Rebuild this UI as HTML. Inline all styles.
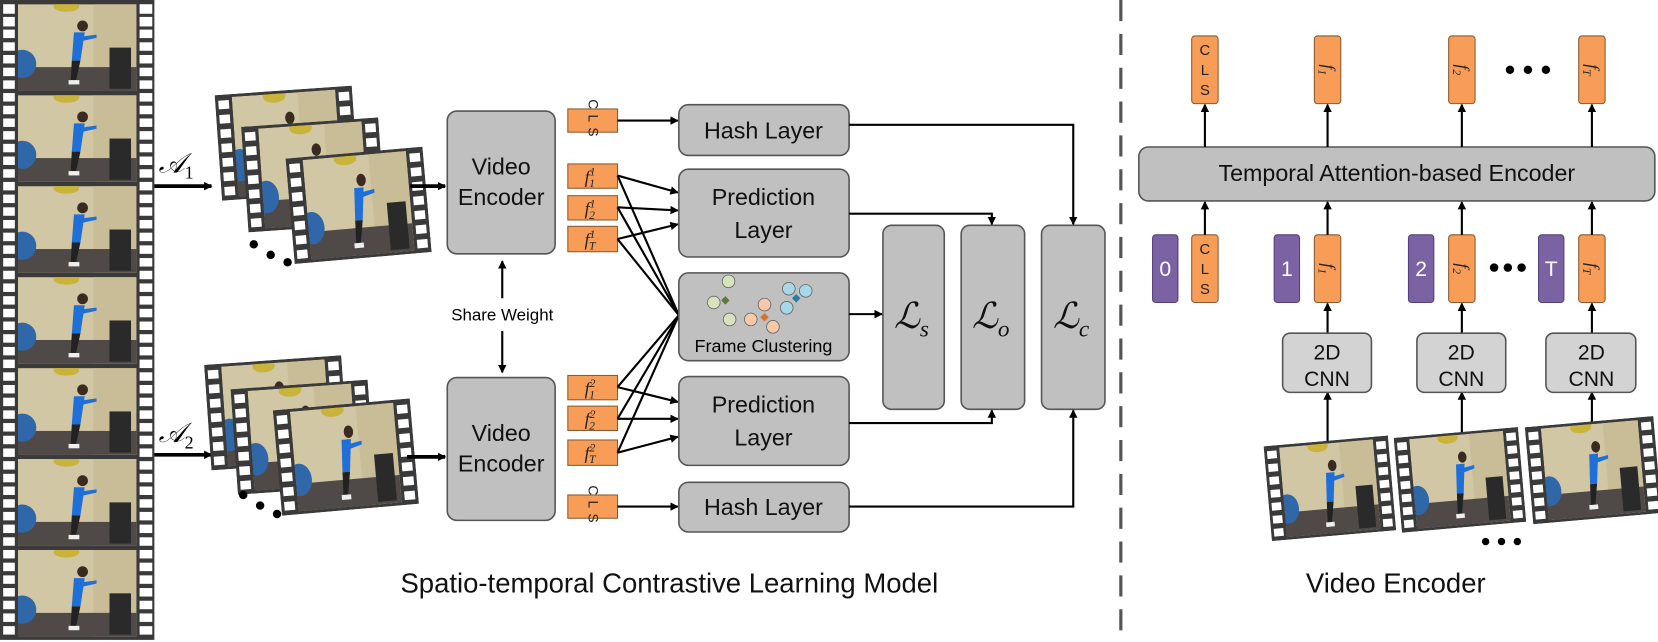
<!DOCTYPE html>
<html><head><meta charset="utf-8"><style>
html,body{margin:0;padding:0;background:#fff;}
svg{display:block;}
text{font-family:"Liberation Sans",sans-serif;}
.m{font-family:"Liberation Serif",serif;font-style:italic;}
</style></head><body>
<svg width="1658" height="642" viewBox="0 0 1568 607" preserveAspectRatio="none" xmlns="http://www.w3.org/2000/svg">
<defs>
<marker id="ah" markerWidth="8" markerHeight="8" refX="7" refY="4" orient="auto" markerUnits="userSpaceOnUse"><path d="M0,0 L8,4 L0,8 z" fill="#000"/></marker>
<marker id="ahs" markerWidth="8" markerHeight="8" refX="7" refY="4" orient="auto-start-reverse" markerUnits="userSpaceOnUse"><path d="M0,0 L8,4 L0,8 z" fill="#000"/></marker>
<symbol id="ph" viewBox="0 0 110 80" preserveAspectRatio="none">
<rect width="110" height="80" fill="#d2c7a4"/>
<rect x="70" y="0" width="40" height="80" fill="#c9bd98"/>
<rect x="0" y="58" width="110" height="22" fill="#4f4a47"/>
<ellipse cx="45" cy="2" rx="12" ry="5" fill="#c9b33a"/>
<circle cx="4" cy="55" r="13" fill="#2f67a8"/>
<rect x="85" y="40" width="20" height="38" fill="#2a2a2a"/>
<circle cx="60" cy="20" r="5" fill="#3a2a20"/>
<path d="M52,26 L62,26 L58,52 L50,52 z" fill="#1f6fd8"/>
<path d="M58,30 L73,28 L73,31 L59,34 z" fill="#1f6fd8"/>
<path d="M50,52 L58,52 L54,70 L49,70 z" fill="#222"/>
<rect x="47" y="70" width="10" height="4" fill="#eee"/>
</symbol>
<symbol id="clip" viewBox="0 0 130 110" preserveAspectRatio="none">
<rect width="130" height="110" fill="#3a3a3a"/>
<use href="#ph" x="16" y="3" width="98" height="104"/>
<g fill="#fff"><rect x="3" y="6" width="10" height="9"/><rect x="3" y="21" width="10" height="9"/><rect x="3" y="36" width="10" height="9"/><rect x="3" y="51" width="10" height="9"/><rect x="3" y="66" width="10" height="9"/><rect x="3" y="81" width="10" height="9"/><rect x="3" y="96" width="10" height="9"/>
<rect x="117" y="6" width="10" height="9"/><rect x="117" y="21" width="10" height="9"/><rect x="117" y="36" width="10" height="9"/><rect x="117" y="51" width="10" height="9"/><rect x="117" y="66" width="10" height="9"/><rect x="117" y="81" width="10" height="9"/><rect x="117" y="96" width="10" height="9"/></g>
</symbol>
</defs>

<!-- left film strip -->
<rect x="0" y="0" width="146" height="605" fill="#3a3a3a"/>
<g id="frames">
<use href="#ph" x="17" y="4" width="112" height="82"/>
<use href="#ph" x="17" y="90" width="112" height="82"/>
<use href="#ph" x="17" y="176" width="112" height="82"/>
<use href="#ph" x="17" y="262" width="112" height="82"/>
<use href="#ph" x="17" y="348" width="112" height="82"/>
<use href="#ph" x="17" y="434" width="112" height="82"/>
<use href="#ph" x="17" y="520" width="112" height="82"/>
</g>
<g fill="#fff">
<rect x="3" y="4" width="11" height="9"/><rect x="3" y="16" width="11" height="9"/>
</g>
<g id="holesL" fill="#fff"></g>
<script>/* no scripts */</script>
<g fill="#fff">
<!-- holes generated statically -->
<rect x="3" y="28" width="11" height="8"/><rect x="3" y="40" width="11" height="8"/><rect x="3" y="52" width="11" height="8"/><rect x="3" y="64" width="11" height="8"/><rect x="3" y="76" width="11" height="8"/><rect x="3" y="88" width="11" height="8"/><rect x="3" y="100" width="11" height="8"/><rect x="3" y="112" width="11" height="8"/><rect x="3" y="124" width="11" height="8"/><rect x="3" y="136" width="11" height="8"/><rect x="3" y="148" width="11" height="8"/><rect x="3" y="160" width="11" height="8"/><rect x="3" y="172" width="11" height="8"/><rect x="3" y="184" width="11" height="8"/><rect x="3" y="196" width="11" height="8"/><rect x="3" y="208" width="11" height="8"/><rect x="3" y="220" width="11" height="8"/><rect x="3" y="232" width="11" height="8"/><rect x="3" y="244" width="11" height="8"/><rect x="3" y="256" width="11" height="8"/><rect x="3" y="268" width="11" height="8"/><rect x="3" y="280" width="11" height="8"/><rect x="3" y="292" width="11" height="8"/><rect x="3" y="304" width="11" height="8"/><rect x="3" y="316" width="11" height="8"/><rect x="3" y="328" width="11" height="8"/><rect x="3" y="340" width="11" height="8"/><rect x="3" y="352" width="11" height="8"/><rect x="3" y="364" width="11" height="8"/><rect x="3" y="376" width="11" height="8"/><rect x="3" y="388" width="11" height="8"/><rect x="3" y="400" width="11" height="8"/><rect x="3" y="412" width="11" height="8"/><rect x="3" y="424" width="11" height="8"/><rect x="3" y="436" width="11" height="8"/><rect x="3" y="448" width="11" height="8"/><rect x="3" y="460" width="11" height="8"/><rect x="3" y="472" width="11" height="8"/><rect x="3" y="484" width="11" height="8"/><rect x="3" y="496" width="11" height="8"/><rect x="3" y="508" width="11" height="8"/><rect x="3" y="520" width="11" height="8"/><rect x="3" y="532" width="11" height="8"/><rect x="3" y="544" width="11" height="8"/><rect x="3" y="556" width="11" height="8"/><rect x="3" y="568" width="11" height="8"/><rect x="3" y="580" width="11" height="8"/><rect x="3" y="592" width="11" height="8"/>
</g>
<g fill="#fff" transform="translate(129,0)">
<rect x="3" y="4" width="12" height="9"/><rect x="3" y="16" width="12" height="9"/><rect x="3" y="28" width="12" height="8"/><rect x="3" y="40" width="12" height="8"/><rect x="3" y="52" width="12" height="8"/><rect x="3" y="64" width="12" height="8"/><rect x="3" y="76" width="12" height="8"/><rect x="3" y="88" width="12" height="8"/><rect x="3" y="100" width="12" height="8"/><rect x="3" y="112" width="12" height="8"/><rect x="3" y="124" width="12" height="8"/><rect x="3" y="136" width="12" height="8"/><rect x="3" y="148" width="12" height="8"/><rect x="3" y="160" width="12" height="8"/><rect x="3" y="172" width="12" height="8"/><rect x="3" y="184" width="12" height="8"/><rect x="3" y="196" width="12" height="8"/><rect x="3" y="208" width="12" height="8"/><rect x="3" y="220" width="12" height="8"/><rect x="3" y="232" width="12" height="8"/><rect x="3" y="244" width="12" height="8"/><rect x="3" y="256" width="12" height="8"/><rect x="3" y="268" width="12" height="8"/><rect x="3" y="280" width="12" height="8"/><rect x="3" y="292" width="12" height="8"/><rect x="3" y="304" width="12" height="8"/><rect x="3" y="316" width="12" height="8"/><rect x="3" y="328" width="12" height="8"/><rect x="3" y="340" width="12" height="8"/><rect x="3" y="352" width="12" height="8"/><rect x="3" y="364" width="12" height="8"/><rect x="3" y="376" width="12" height="8"/><rect x="3" y="388" width="12" height="8"/><rect x="3" y="400" width="12" height="8"/><rect x="3" y="412" width="12" height="8"/><rect x="3" y="424" width="12" height="8"/><rect x="3" y="436" width="12" height="8"/><rect x="3" y="448" width="12" height="8"/><rect x="3" y="460" width="12" height="8"/><rect x="3" y="472" width="12" height="8"/><rect x="3" y="484" width="12" height="8"/><rect x="3" y="496" width="12" height="8"/><rect x="3" y="508" width="12" height="8"/><rect x="3" y="520" width="12" height="8"/><rect x="3" y="532" width="12" height="8"/><rect x="3" y="544" width="12" height="8"/><rect x="3" y="556" width="12" height="8"/><rect x="3" y="568" width="12" height="8"/><rect x="3" y="580" width="12" height="8"/><rect x="3" y="592" width="12" height="8"/>
</g>

<!-- A1 / A2 arrows -->
<line x1="146" y1="176" x2="200" y2="176" stroke="#000" stroke-width="3.5" marker-end="url(#ah)"/>
<text x="150" y="163" class="m" font-size="26">𝒜<tspan font-size="17" dy="6" font-style="normal">1</tspan></text>
<line x1="146" y1="430" x2="200" y2="430" stroke="#000" stroke-width="3.5" marker-end="url(#ah)"/>
<text x="150" y="418" class="m" font-size="26">𝒜<tspan font-size="17" dy="6" font-style="normal">2</tspan></text>

<!-- stacked clips top -->
<g transform="translate(203,90) rotate(-4)"><use href="#clip" width="130" height="100"/></g>
<g transform="translate(228,120) rotate(-4)"><use href="#clip" width="130" height="100"/></g>
<g transform="translate(270,150) rotate(-5)"><use href="#clip" width="130" height="100"/></g>
<g fill="#000"><circle cx="240" cy="231" r="4"/><circle cx="256" cy="241" r="4"/><circle cx="272" cy="248" r="4"/></g>
<line x1="388" y1="176" x2="421" y2="176" stroke="#000" stroke-width="3.5" marker-end="url(#ah)"/>
<!-- stacked clips bottom -->
<g transform="translate(193,345) rotate(-4)"><use href="#clip" width="130" height="100"/></g>
<g transform="translate(218,368) rotate(-4)"><use href="#clip" width="130" height="100"/></g>
<g transform="translate(258,388) rotate(-5)"><use href="#clip" width="130" height="100"/></g>
<g fill="#000"><circle cx="230" cy="468" r="4"/><circle cx="246" cy="478" r="4"/><circle cx="262" cy="486" r="4"/></g>
<line x1="385" y1="432" x2="421" y2="432" stroke="#000" stroke-width="3.5" marker-end="url(#ah)"/>

<!-- Video encoders -->
<g fill="#c0c0c0" stroke="#555" stroke-width="1.5">
<rect x="423" y="105" width="102" height="135" rx="9"/>
<rect x="423" y="357" width="102" height="135" rx="9"/>
</g>
<g font-size="22" text-anchor="middle" fill="#111">
<text x="474" y="165">Video</text><text x="474" y="194">Encoder</text>
<text x="474" y="417">Video</text><text x="474" y="446">Encoder</text>
</g>
<line x1="475" y1="247" x2="475" y2="282" stroke="#000" stroke-width="2" marker-start="url(#ahs)"/>
<line x1="475" y1="313" x2="475" y2="352" stroke="#000" stroke-width="2" marker-end="url(#ah)"/>
<text x="475" y="303" font-size="16" text-anchor="middle">Share Weight</text>

<!-- tokens left -->
<g fill="#f79d57" stroke="#8a5a30" stroke-width="1">
<rect x="537" y="103" width="47" height="22"/>
<rect x="537" y="155" width="47" height="23"/>
<rect x="537" y="185" width="47" height="23"/>
<rect x="537" y="214" width="47" height="24"/>
<rect x="537" y="355" width="47" height="23"/>
<rect x="537" y="384" width="47" height="23"/>
<rect x="537" y="416" width="47" height="24"/>
<rect x="537" y="468" width="47" height="22"/>
</g>
<g font-size="13" fill="#222">
<text transform="translate(560,114) rotate(90)" text-anchor="middle" dominant-baseline="middle" letter-spacing="5">CLS</text>
<text transform="translate(560,479) rotate(90)" text-anchor="middle" dominant-baseline="middle" letter-spacing="5">CLS</text>
</g>
<g class="m" font-size="17" fill="#222" text-anchor="middle">
<text x="558" y="173" class="m">f<tspan font-size="11" dy="-7">1</tspan><tspan font-size="11" dx="-6" dy="11">1</tspan></text>
<text x="558" y="203" class="m">f<tspan font-size="11" dy="-7">1</tspan><tspan font-size="11" dx="-6" dy="11">2</tspan></text>
<text x="558" y="232" class="m">f<tspan font-size="11" dy="-7">1</tspan><tspan font-size="11" dx="-6" dy="11">T</tspan></text>
<text x="558" y="373" class="m">f<tspan font-size="11" dy="-7">2</tspan><tspan font-size="11" dx="-6" dy="11">1</tspan></text>
<text x="558" y="402" class="m">f<tspan font-size="11" dy="-7">2</tspan><tspan font-size="11" dx="-6" dy="11">2</tspan></text>
<text x="558" y="434" class="m">f<tspan font-size="11" dy="-7">2</tspan><tspan font-size="11" dx="-6" dy="11">T</tspan></text>
</g>

<!-- token arrows -->
<g stroke="#000" stroke-width="2" fill="none" marker-end="url(#ah)">
<line x1="584" y1="114" x2="641" y2="114"/>
<line x1="584" y1="479" x2="641" y2="479"/>
<line x1="584" y1="166" x2="641" y2="182"/>
<line x1="584" y1="196" x2="641" y2="199"/>
<line x1="584" y1="226" x2="641" y2="212"/>
<line x1="584" y1="366" x2="641" y2="380"/>
<line x1="584" y1="396" x2="641" y2="396"/>
<line x1="584" y1="428" x2="641" y2="413"/>
</g>
<g stroke="#000" stroke-width="2">
<line x1="584" y1="166" x2="642" y2="298"/>
<line x1="584" y1="196" x2="642" y2="298"/>
<line x1="584" y1="226" x2="642" y2="298"/>
<line x1="584" y1="366" x2="642" y2="298"/>
<line x1="584" y1="396" x2="642" y2="298"/>
<line x1="584" y1="428" x2="642" y2="298"/>
</g>

<!-- middle boxes -->
<g fill="#c0c0c0" stroke="#555" stroke-width="1.5">
<rect x="642" y="99" width="161" height="48" rx="9"/>
<rect x="642" y="160" width="161" height="83" rx="9"/>
<rect x="642" y="258" width="161" height="83" rx="9"/>
<rect x="642" y="356" width="161" height="84" rx="9"/>
<rect x="642" y="456" width="161" height="47" rx="9"/>
</g>
<g font-size="22" text-anchor="middle" fill="#111">
<text x="722" y="131">Hash Layer</text>
<text x="722" y="194">Prediction</text><text x="722" y="225">Layer</text>
<text x="722" y="390">Prediction</text><text x="722" y="421">Layer</text>
<text x="722" y="487">Hash Layer</text>
</g>
<text x="722" y="333" font-size="17" text-anchor="middle">Frame Clustering</text>
<g stroke="#666" stroke-width="0.8">
<circle cx="689" cy="266" r="6" fill="#d7e3bd"/><circle cx="675" cy="286" r="6" fill="#d7e3bd"/><circle cx="690" cy="302" r="6" fill="#d7e3bd"/>
<circle cx="746" cy="273" r="6" fill="#a9d7ea"/><circle cx="762" cy="275" r="6" fill="#a9d7ea"/><circle cx="744" cy="291" r="6" fill="#a9d7ea"/>
<circle cx="723" cy="288" r="6" fill="#f8c9a8"/><circle cx="710" cy="302" r="6" fill="#f8c9a8"/><circle cx="731" cy="309" r="6" fill="#f8c9a8"/>
</g>
<g><path d="M686,280 l4,4 -4,4 -4,-4z" fill="#5b7b3a"/><path d="M753,278 l4,4 -4,4 -4,-4z" fill="#2d7ca0"/><path d="M723,296 l4,4 -4,4 -4,-4z" fill="#e0701f"/></g>

<!-- loss boxes -->
<g fill="#c0c0c0" stroke="#555" stroke-width="1.5">
<rect x="835" y="213" width="58" height="174" rx="8"/>
<rect x="909" y="213" width="60" height="174" rx="8"/>
<rect x="985" y="213" width="60" height="174" rx="8"/>
</g>
<g class="m" font-size="34" text-anchor="middle" fill="#111">
<text x="862" y="310" class="m">ℒ<tspan font-size="22" dy="8">s</tspan></text>
<text x="937" y="310" class="m">ℒ<tspan font-size="22" dy="8">o</tspan></text>
<text x="1013" y="310" class="m">ℒ<tspan font-size="22" dy="8">c</tspan></text>
</g>
<g stroke="#000" stroke-width="2" fill="none" marker-end="url(#ah)">
<polyline points="803,118 1015,118 1015,212"/>
<polyline points="803,202 938,202 938,212"/>
<line x1="803" y1="297" x2="834" y2="297"/>
<polyline points="803,400 938,400 938,388"/>
<polyline points="803,479 1015,479 1015,388"/>
</g>
<text x="633" y="560" font-size="26" text-anchor="middle" fill="#111">Spatio-temporal Contrastive Learning Model</text>

<!-- dashed divider -->
<line x1="1060" y1="0" x2="1060" y2="607" stroke="#555" stroke-width="3" stroke-dasharray="20,12"/>

<!-- right: video encoder -->
<rect x="1077" y="139" width="488" height="51" rx="9" fill="#c0c0c0" stroke="#555" stroke-width="1.5"/>
<text x="1321" y="171" font-size="22" text-anchor="middle" fill="#111">Temporal Attention-based Encoder</text>
<g fill="#f79d57" stroke="#8a5a30" stroke-width="1">
<rect x="1127" y="34" width="25" height="64" rx="3"/>
<rect x="1243" y="34" width="25" height="64" rx="3"/>
<rect x="1370" y="34" width="25" height="64" rx="3"/>
<rect x="1493" y="34" width="25" height="64" rx="3"/>
<rect x="1127" y="222" width="25" height="64" rx="3"/>
<rect x="1243" y="222" width="25" height="64" rx="3"/>
<rect x="1370" y="222" width="25" height="64" rx="3"/>
<rect x="1493" y="222" width="25" height="64" rx="3"/>
</g>
<g fill="#7b62a3" stroke="#54407a" stroke-width="1">
<rect x="1090" y="222" width="24" height="64" rx="3"/>
<rect x="1205" y="222" width="24" height="64" rx="3"/>
<rect x="1332" y="222" width="24" height="64" rx="3"/>
<rect x="1455" y="222" width="24" height="64" rx="3"/>
</g>
<g font-size="20" fill="#fff" text-anchor="middle">
<text x="1102" y="261">0</text><text x="1217" y="261">1</text><text x="1344" y="261">2</text><text x="1467" y="261">T</text>
</g>
<g font-size="14" fill="#222" text-anchor="middle">
<text x="1139.5" y="52">C</text><text x="1139.5" y="71">L</text><text x="1139.5" y="90">S</text>
<text x="1139.5" y="240">C</text><text x="1139.5" y="259">L</text><text x="1139.5" y="278">S</text>
</g>
<g class="m" font-size="17" fill="#222" text-anchor="middle">
<text transform="translate(1251,66) rotate(90)" class="m">f<tspan font-size="11" dy="4">1</tspan></text>
<text transform="translate(1378,66) rotate(90)" class="m">f<tspan font-size="11" dy="4">2</tspan></text>
<text transform="translate(1501,66) rotate(90)" class="m">f<tspan font-size="11" dy="4">T</tspan></text>
<text transform="translate(1251,254) rotate(90)" class="m">f<tspan font-size="11" dy="4">1</tspan></text>
<text transform="translate(1378,254) rotate(90)" class="m">f<tspan font-size="11" dy="4">2</tspan></text>
<text transform="translate(1501,254) rotate(90)" class="m">f<tspan font-size="11" dy="4">T</tspan></text>
</g>
<g fill="#000">
<circle cx="1428" cy="66" r="4"/><circle cx="1445" cy="66" r="4"/><circle cx="1462" cy="66" r="4"/>
<circle cx="1413" cy="253" r="4"/><circle cx="1426" cy="253" r="4"/><circle cx="1439" cy="253" r="4"/>
<circle cx="1405" cy="512" r="3.5"/><circle cx="1420" cy="512" r="3.5"/><circle cx="1435" cy="512" r="3.5"/>
</g>
<g stroke="#000" stroke-width="2" marker-end="url(#ah)">
<line x1="1139.5" y1="139" x2="1139.5" y2="99"/>
<line x1="1255.5" y1="139" x2="1255.5" y2="99"/>
<line x1="1382.5" y1="139" x2="1382.5" y2="99"/>
<line x1="1505.5" y1="139" x2="1505.5" y2="99"/>
<line x1="1139.5" y1="222" x2="1139.5" y2="191"/>
<line x1="1255.5" y1="222" x2="1255.5" y2="191"/>
<line x1="1382.5" y1="222" x2="1382.5" y2="191"/>
<line x1="1505.5" y1="222" x2="1505.5" y2="191"/>
<line x1="1255.5" y1="315" x2="1255.5" y2="287"/>
<line x1="1382.5" y1="315" x2="1382.5" y2="287"/>
<line x1="1505.5" y1="315" x2="1505.5" y2="287"/>
<line x1="1255.5" y1="418" x2="1255.5" y2="371"/>
<line x1="1382.5" y1="410" x2="1382.5" y2="371"/>
<line x1="1505.5" y1="400" x2="1505.5" y2="371"/>
</g>
<g fill="#d3d3d3" stroke="#555" stroke-width="1.5">
<rect x="1213" y="315" width="84" height="56" rx="7"/>
<rect x="1340" y="315" width="84" height="56" rx="7"/>
<rect x="1462" y="315" width="85" height="56" rx="7"/>
</g>
<g font-size="20" text-anchor="middle" fill="#111">
<text x="1255" y="340">2D</text><text x="1255" y="365">CNN</text>
<text x="1382" y="340">2D</text><text x="1382" y="365">CNN</text>
<text x="1505" y="340">2D</text><text x="1505" y="365">CNN</text>
</g>
<g transform="translate(1195,422) rotate(-5)"><use href="#clip" width="118" height="90"/></g>
<g transform="translate(1318,414) rotate(-5)"><use href="#clip" width="118" height="90"/></g>
<g transform="translate(1442,404) rotate(-5)"><use href="#clip" width="122" height="92"/></g>
<text x="1320" y="560" font-size="26" text-anchor="middle" fill="#111">Video Encoder</text>
</svg>
</body></html>
